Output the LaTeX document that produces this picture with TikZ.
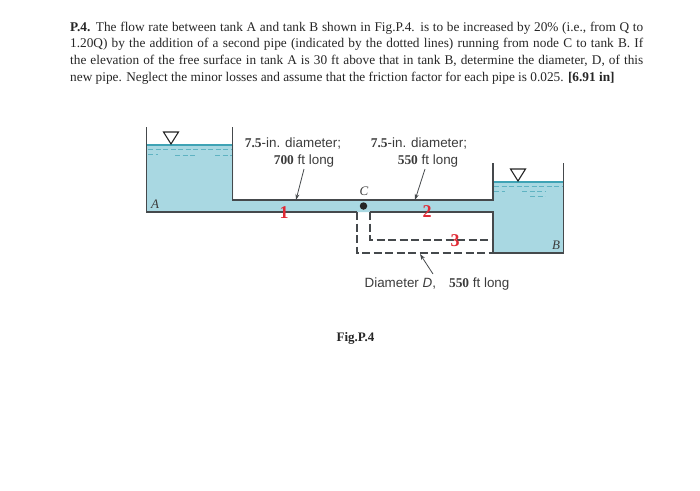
\documentclass[tikz,border=0pt]{standalone}
\usepackage{fontspec}
\setmainfont{Liberation Serif}
\setsansfont{Liberation Sans}
\definecolor{water}{HTML}{A9D8E2}
\definecolor{surf}{HTML}{3FA3B5}
\definecolor{wall}{HTML}{45494C}
\definecolor{labelgray}{HTML}{3C3C3C}
\definecolor{numred}{HTML}{E02A35}
\tikzset{
 x=1pt,y=-1pt,
 para/.style={anchor=base west,inner sep=0pt,font=\fontsize{13.3}{15}\selectfont,text=black!85},
 lab/.style={anchor=base,inner sep=0pt,font=\sffamily\fontsize{13.4}{15}\selectfont,text=labelgray},
 numlab/.style={inner sep=0pt,font=\rmfamily\bfseries\fontsize{18}{20}\selectfont,text=numred},
 letter/.style={inner sep=0pt,font=\rmfamily\itshape\fontsize{13}{15}\selectfont,text=labelgray},
 wallline/.style={draw=wall,line width=1.5pt},
 dashpipe/.style={draw=wall,line width=1.5pt,dash pattern=on 8pt off 3.5pt},
 pointer/.style={draw=wall,line width=.8pt,-{Stealth[length=6pt,width=4pt]}},
 surfline/.style={draw=surf,line width=1.2pt},
 ripple/.style={draw=surf!70!water,line width=.8pt,dash pattern=on 5pt off 2.5pt},
 gauge/.style={draw=black!85,line width=1.1pt,fill=white,line join=miter}
}
\usetikzlibrary{arrows.meta}
\newcommand{\bn}[1]{{\rmfamily\bfseries #1}}
\begin{document}
\begin{tikzpicture}
\useasboundingbox (0,0) rectangle (700,490);
% water
\fill[water] (147,145) -- (233,145) -- (233,200) -- (493,200) -- (493,182) -- (563,182) -- (563,253) -- (493,253) -- (493,212) -- (147,212) -- cycle;
\draw[surfline] (147,145) -- (233,145);
\draw[surfline] (493,182) -- (563,182);
\draw[ripple] (148,149) -- (232,149);
\draw[ripple] (148,154) -- (158,154) (175,155) -- (195,155) (215,155) -- (232,155);
\draw[ripple] (494,186) -- (562,186);
\draw[ripple] (494,191) -- (505,191) (522,191) -- (545,191) (530,196) -- (545,196);
% walls
\draw[wallline] (146.5,127) -- (146.5,212) -- (357,212);
\draw[wallline] (232.7,127) -- (232.7,200) -- (493,200) -- (493,163);
\draw[wallline] (370,212) -- (493,212) -- (493,253) -- (563.5,253) -- (563.5,163);
% new pipe
\draw[dashpipe] (357,212) -- (357,253) -- (493,253);
\draw[dashpipe] (370,212) -- (370,240) -- (493,240);
% surface markers
\draw[gauge] (163.5,132) -- (178.5,132) -- (171,144) -- cycle;
\draw[gauge] (510.5,169) -- (525.5,169) -- (518,181) -- cycle;
% node C
\node[circle,fill=black!85,inner sep=0pt,minimum size=7.5pt] (nodec) at (363.5,206) {};
\node[letter] (lc) at (364,191) {C};
\node[letter] (la) at (155,204) {A};
\node[letter] (lb) at (556,245) {B};
% numbers
\node[numlab] (n1) at (284,212.5) {1};
\node[numlab] (n2) at (427,211.5) {2};
\node[numlab] (n3) at (455,240.5) {3};
% labels
\node[lab] (l1a) at (293,147) {\bn{7.5}-in. diameter;};
\node[lab] (l1b) at (304,164) {\bn{700} ft long};
\node[lab] (l2a) at (419,147) {\bn{7.5}-in. diameter;};
\node[lab] (l2b) at (428,164) {\bn{550} ft long};
\node[lab] (l3) at (437,287) {Diameter \textit{D},\hspace{13pt}\bn{550} ft long};
\coordinate (p1s) at (304,169);
\coordinate (p1e) at (296,200);
\coordinate (p2s) at (425,169);
\coordinate (p2e) at (415,200);
\coordinate (p3s) at (433,274);
\coordinate (p3e) at (420,254);
\draw[pointer] (p1s) -- (p1e);
\draw[pointer] (p2s) -- (p2e);
\draw[pointer] (p3s) -- (p3e);
\node[anchor=base,inner sep=0pt,font=\fontsize{13}{15}\selectfont\bfseries,text=black!85] (fig) at (355.5,341) {Fig.P.4};
% paragraph
\node[para] (t1) at (70,31) {\makebox[573pt][s]{\textbf{P.4.} The flow rate between tank A and tank B shown in Fig.P.4. is to be increased by 20\% (i.e., from Q to}};
\node[para] (t2) at (70,47.5) {\makebox[573pt][s]{1.20Q) by the addition of a second pipe (indicated by the dotted lines) running from node C to tank B. If}};
\node[para] (t3) at (70,64) {\makebox[573pt][s]{the elevation of the free surface in tank A is 30 ft above that in tank B, determine the diameter, D, of this}};
\node[para] (t4) at (70,81) {new pipe. Neglect the minor losses and assume that the friction factor for each pipe is 0.025. \textbf{[6.91 in]}};
\end{tikzpicture}
\end{document}
